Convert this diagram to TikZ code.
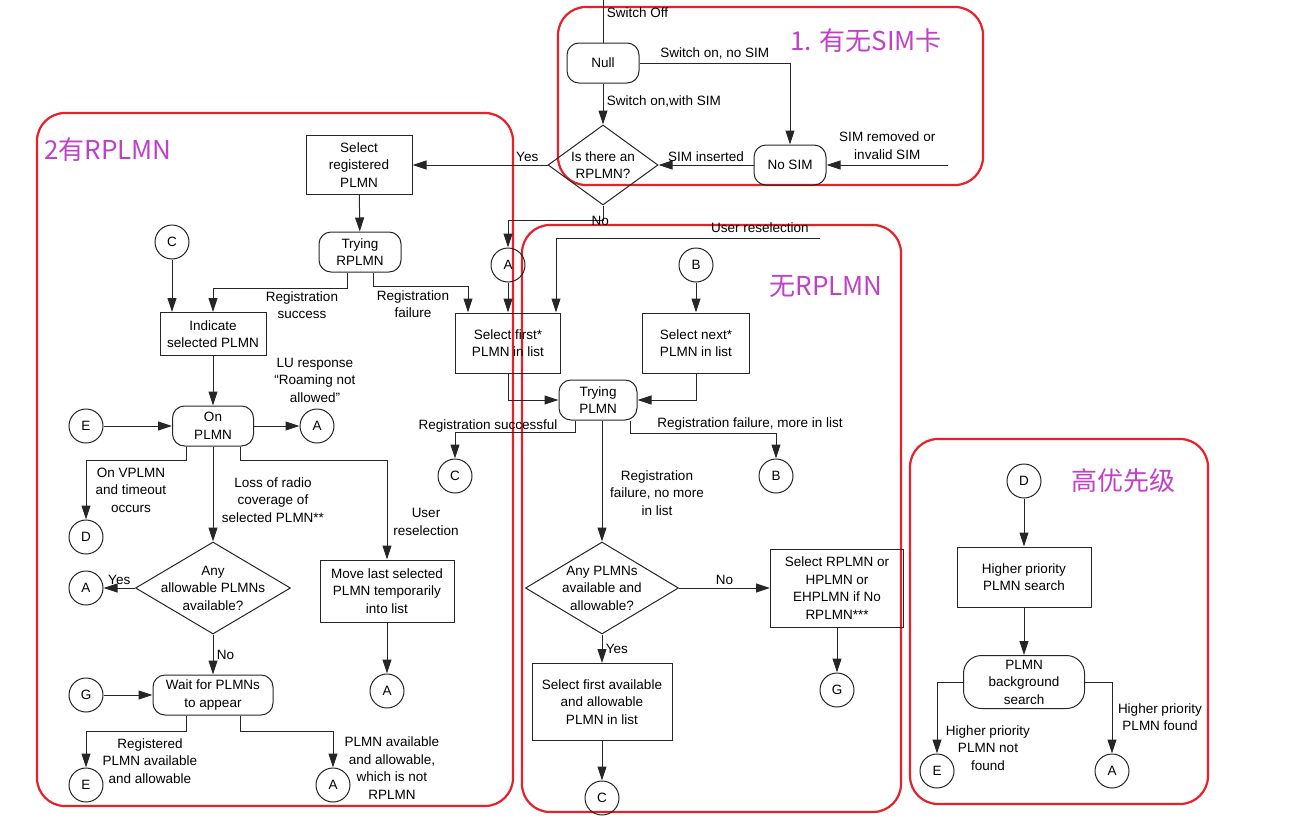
\documentclass[tikz,border=0pt]{standalone}
\usepackage{fontspec}
\setmainfont{Liberation Sans}
\newfontfamily\cjk{Noto Sans CJK SC}
\usetikzlibrary{shapes.geometric,calc,arrows.meta}
\definecolor{ln}{HTML}{262626}
\definecolor{frame}{HTML}{E8202A}
\definecolor{ttl}{HTML}{C040C8}
\tikzset{
  every node/.style={font=\fontsize{13.5}{17.5}\selectfont, align=center},
  box/.style={draw=ln, line width=1pt, rectangle, minimum width=#1, inner sep=2pt},
  box/.default=106pt,
  state/.style={draw=ln, line width=1pt, rounded corners=12pt, minimum width=#1, minimum height=40pt, inner sep=1pt},
  state/.default=80pt,
  dec/.style={draw=ln, line width=1pt, diamond, minimum width=#1, inner sep=0pt},
  conn/.style={draw=ln, line width=1pt, circle, minimum size=34pt, inner sep=0pt},
  arr/.style={draw=ln, line width=1pt, -{Triangle[length=14pt,width=9pt]}},
  ln/.style={draw=ln, line width=1pt},
  zone/.style={draw=frame, line width=2.2pt, rounded corners=28pt},
  title/.style={text=ttl, font=\fontsize{26}{28}\cjk}
}
\begin{document}
\begin{tikzpicture}[x=1pt,y=-1pt]
  \useasboundingbox (0,0) rectangle (1312,819);
  % frames
  \draw[zone] (558,7) rectangle (983,185);
  \draw[zone] (37,113) rectangle (513,806);
  \draw[zone] (522,225) rectangle (901,812);
  \draw[zone] (910,439) rectangle (1208,804);
  \node[title] at (866,41) {1. 有无SIM卡};
  \node[title] at (108,150) {2有RPLMN};
  \node[title] at (826,286) {无RPLMN};
  \node[title] at (1123,481) {高优先级};

  % SIM part
  \coordinate (top) at (603,0);
  \coordinate (simrm) at (948,165);
  \node[state=72pt] (null) at (603,63) {Null};
  \node[dec=110pt, minimum height=80pt, label=center:{Is there an\\RPLMN?}] (rpl) at (603,165) {};
  \node[state=72pt] (nosim) at (790,165) {No SIM};
  \draw[ln] (top) -- (null.north) node[pos=0.3, right] {Switch Off};
  \draw[arr] (null) -- (rpl.north) node[pos=0.45, right] {Switch on,with SIM};
  \draw[arr] (null.east) -| (nosim.north) node[pos=0.25, above] {Switch on, no SIM};
  \draw[arr] (simrm) -- (nosim.east) node[midway, above=2pt] {SIM removed or\\invalid SIM};
  \draw[arr] (nosim) -- (rpl.east) node[midway, above] {SIM inserted};

  % RPLMN part
  \node[box, minimum height=59pt] (selreg) at (359,165) {Select\\registered\\PLMN};
  \node[state=82pt] (tryr) at (360,252) {Trying\\RPLMN};
  \node[conn] (c1) at (172,242) {C};
  \node[box, minimum height=43pt] (ind) at (213,334) {Indicate\\selected PLMN};
  \node[state=81pt] (onp) at (213,426) {On\\PLMN};
  \node[conn] (e1) at (86,426) {E};
  \node[conn] (a1) at (317,426) {A};
  \node[conn] (d1) at (86,537) {D};
  \node[dec=155pt, minimum height=92pt, label=center:{Any\\allowable PLMNs\\available?}] (anyal) at (213,588) {};
  \node[conn] (a2) at (86,588) {A};
  \node[box=134pt, minimum height=62pt] (move) at (387,591) {Move last selected\\PLMN temporarily\\into list};
  \node[conn] (a3) at (387,691) {A};
  \node[state=120pt] (wait) at (213,695) {Wait for PLMNs\\to appear};
  \node[conn] (g1) at (86,695) {G};
  \node[conn] (e2) at (86,785) {E};
  \node[conn] (a4) at (333,785) {A};

  \draw[arr] (rpl.west) -- (selreg.east) node[pos=0.15, above] {Yes};
  \draw[arr] (selreg) -- (tryr);
  \draw[arr] (c1) -- (c1 |- ind.north);
  \draw[arr] ([xshift=-13pt]tryr.south) |- ++(0,16) -| (ind.north);
  \node at (302,305) {Registration\\success};
  \draw[arr] (ind) -- (onp);
  \draw[arr] (e1) -- (onp);
  \draw[arr] (onp) -- (a1);
  \node at (315,380) {LU response\\“Roaming not\\allowed”};
  \draw[arr] ([xshift=-27pt]onp.south) |- ++(0,14) -| (d1.north);
  \node at (131,490) {On VPLMN\\and timeout\\occurs};
  \draw[arr] (onp) -- (anyal.north);
  \node at (273,500) {Loss of radio\\coverage of\\selected PLMN**};
  \draw[arr] ([xshift=27pt]onp.south) |- ++(0,14) -| (move.north);
  \node at (426,522) {User\\reselection};
  \draw[arr] (anyal.west) -- (a2) node[midway, above] {Yes};
  \draw[arr] (anyal.south) -- (wait) node[midway, right] {No};
  \draw[arr] (g1) -- (wait);
  \draw[arr] (move) -- (a3);
  \draw[arr] ([xshift=-27pt]wait.south) |- ++(0,16) -| (e2.north);
  \node at (150,761) {Registered\\PLMN available\\and allowable};
  \draw[arr] ([xshift=27pt]wait.south) |- ++(0,16) -| (a4.north);
  \node at (392,768) {PLMN available\\and allowable,\\which is not\\RPLMN};

  % no RPLMN part
  \coordinate (usr) at (820,238);
  \node[conn] (a5) at (508,265) {A};
  \node[box=105pt, minimum height=60pt] (self) at (508,343) {Select first*\\PLMN in list};
  \node[conn] (b1) at (696,265) {B};
  \node[box=107pt, minimum height=60pt] (seln) at (696,343) {Select next*\\PLMN in list};
  \node[state=78pt] (tryp) at (598,400) {Trying\\PLMN};
  \node[conn] (c2) at (455,476) {C};
  \node[conn] (b2) at (776,476) {B};
  \node[dec=153pt, minimum height=92pt, label=center:{Any PLMNs\\available and\\allowable?}] (anyp) at (602,588) {};
  \node[box=133pt, minimum height=78pt] (selr) at (837,588) {Select RPLMN or\\HPLMN or\\EHPLMN if No\\RPLMN***};
  \node[conn] (g2) at (837,690) {G};
  \node[box=140pt, minimum height=77pt] (sela) at (602,702) {Select first available\\and allowable\\PLMN in list};
  \node[conn] (c3) at (602,798) {C};

  \draw[arr] (rpl.south) |- ++(0,15) -| (a5.north) node[pos=0.08, right] {No};
  \draw[arr] (a5) -- (self);
  \draw[arr] ([xshift=13pt]tryr.south) |- ++(0,14) -| ([xshift=-40pt]self.north);
  \node at (413,304) {Registration\\failure};
  \draw[arr] (usr) -| ([xshift=48pt]self.north);
  \node at (760,228) {User reselection};
  \draw[arr] (b1) -- (seln);
  \draw[arr] (self.south) |- (tryp.west);
  \draw[arr] (seln.south) |- (tryp.east);
  \draw[arr] ([xshift=-23pt]tryp.south) |- ++(0,12) -| (c2.north);
  \node at (488,426) {Registration successful};
  \draw[arr] ([xshift=32pt]tryp.south) |- ++(0,13) -| (b2.north);
  \node at (750,424) {Registration failure, more in list};
  \draw[arr] ([xshift=4pt]tryp.south) -- (anyp.north);
  \node at (657,493) {Registration\\failure, no more\\in list};
  \draw[arr] (anyp.east) -- (selr) node[midway, above] {No};
  \draw[arr] (anyp.south) -- (sela) node[midway, right] {Yes};
  \draw[arr] (selr) -- (g2);
  \draw[arr] (sela) -- (c3);

  % higher priority part
  \node[conn] (d2) at (1024,481) {D};
  \node[box=134pt, minimum height=60pt] (hps) at (1024,577) {Higher priority\\PLMN search};
  \node[state=121pt, minimum height=53pt, rounded corners=18pt] (bgs) at (1024,682) {PLMN\\background\\search};
  \node[conn] (e3) at (937,771) {E};
  \node[conn] (a6) at (1112,771) {A};
  \draw[arr] (d2) -- (hps);
  \draw[arr] (hps) -- (bgs);
  \draw[arr] (bgs.west) -| (e3.north);
  \node at (988,748) {Higher priority\\PLMN not\\found};
  \draw[arr] (bgs.east) -| (a6.north);
  \node at (1160,717) {Higher priority\\PLMN found};
\end{tikzpicture}
\end{document}
